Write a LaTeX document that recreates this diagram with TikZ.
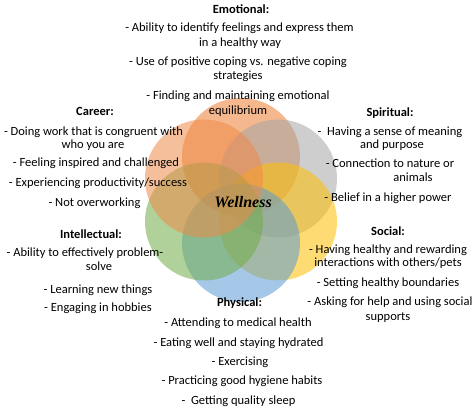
\documentclass[tikz,border=0pt]{standalone}
\usepackage{fontspec}
\setmainfont{Carlito}
\newfontfamily\wellfont{Liberation Serif}
\definecolor{cemo}{HTML}{ED7D31}
\definecolor{ccar}{HTML}{EF8A48}
\definecolor{cspi}{HTML}{A5A5A5}
\definecolor{csoc}{HTML}{FFC000}
\definecolor{cphy}{HTML}{5B9BD5}
\definecolor{cint}{HTML}{70AD47}
\begin{document}
\begin{tikzpicture}[x=1pt,y=-1pt,
  petal/.style={circle, minimum size=118pt, inner sep=0pt, draw=none, fill opacity=0.55},
  ln/.style={anchor=base, inner sep=0pt, font=\fontsize{12.5}{15}\selectfont},
  hd/.style={ln, font=\fontsize{12.5}{15}\selectfont\bfseries}]
\useasboundingbox (0,0) rectangle (474,411);
% circles
\node[petal, fill=cemo] (emo) at (241,157) {};
\node[petal, fill=cspi] (spi) at (278,178.5) {};
\node[petal, fill=csoc] (soc) at (278,221.5) {};
\node[petal, fill=cphy] (phy) at (241,243) {};
\node[petal, fill=cint] (int) at (204,221.5) {};
\node[petal, fill=ccar] (car) at (204,178.5) {};
\node[inner sep=0pt, font=\wellfont\fontsize{16}{18}\selectfont\bfseries\itshape] (well) at (243,202) {Wellness};
% Emotional
\node[hd] (e0) at (241,14) {Emotional:};
\node[ln] (e1) at (239.5,32) {- Ability to identify feelings and express them};
\node[ln] (e2) at (240,47) {in a healthy way};
\node[ln] (e3) at (238,66) {- Use of positive coping vs. negative coping};
\node[ln] (e4) at (238,80) {strategies};
\node[ln] (e5) at (238,100) {- Finding and maintaining emotional};
\node[ln] (e6) at (238,114.5) {equilibrium};
% Career
\node[hd] (c0) at (95,116) {Career:};
\node[ln] (c1) at (93.5,136) {- Doing work that is congruent with};
\node[ln] (c2) at (93,149) {who you are};
\node[ln] (c3) at (96,167) {- Feeling inspired and challenged};
\node[ln] (c4) at (98,187) {- Experiencing productivity/success};
\node[ln] (c5) at (94.5,207) {- Not overworking};
% Spiritual
\node[hd] (s0) at (390,117) {Spiritual:};
\node[ln] (s1) at (390,136) {-\ \ Having a sense of meaning};
\node[ln] (s2) at (392,149) {and purpose};
\node[ln] (s3) at (390,168) {- Connection to nature or};
\node[ln] (s4) at (413,182) {animals};
\node[ln] (s5) at (388,202) {- Belief in a higher power};
% Intellectual
\node[hd] (i0) at (91,239) {Intellectual:};
\node[ln] (i1) at (85,257) {- Ability to effectively problem-};
\node[ln] (i2) at (99,271) {solve};
\node[ln] (i3) at (98,294) {- Learning new things};
\node[ln] (i4) at (98,312) {- Engaging in hobbies};
% Social
\node[hd] (o0) at (388,236) {Social:};
\node[ln] (o1) at (388,254) {- Having healthy and rewarding};
\node[ln] (o2) at (388,267) {interactions with others/pets};
\node[ln] (o3) at (388,287) {- Setting healthy boundaries};
\node[ln] (o4) at (390,306) {- Asking for help and using social};
\node[ln] (o5) at (388,321) {supports};
% Physical
\node[hd] (p0) at (239.5,307) {Physical:};
\node[ln] (p1) at (238,327) {- Attending to medical health};
\node[ln] (p2) at (238.5,347) {- Eating well and staying hydrated};
\node[ln] (p3) at (240,366) {- Exercising};
\node[ln] (p4) at (242,385) {- Practicing good hygiene habits};
\node[ln] (p5) at (238.5,405) {-\ \ Getting quality sleep};
\end{tikzpicture}
\end{document}
